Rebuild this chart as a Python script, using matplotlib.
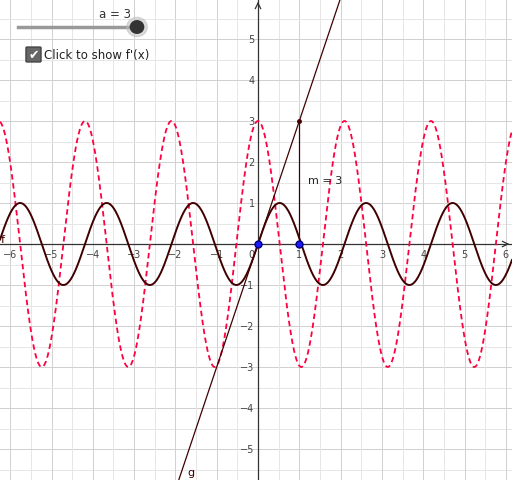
import numpy as np
import matplotlib
matplotlib.use("Agg")
import matplotlib.pyplot as plt
from matplotlib.patches import FancyBboxPatch, Circle

a = 3
tangent_x0 = 0
slope = 3
xticks = [-6, -5, -4, -3, -2, -1, 1, 2, 3, 4, 5, 6]
yticks = [-5, -4, -3, -2, -1, 1, 2, 3, 4, 5]

W, H = 512, 481
fig = plt.figure(figsize=(W/100, H/100), dpi=100)
ax = fig.add_axes([0, 0, 1, 1])
x0px, y0px, sx, sy = 258, 245, 41.3, 41
xmin, xmax = -x0px/sx, (W-x0px)/sx
ymax, ymin = y0px/sy, -(H-y0px)/sy
ax.set_xlim(xmin, xmax); ax.set_ylim(ymin, ymax)
ax.axis('off')

for v in np.arange(-6.5, 6.6, 0.5):
    ax.axvline(v, color='#e6e6e6' if v % 1 else '#d0d0d0', lw=0.7, zorder=0)
    ax.axhline(v, color='#e6e6e6' if v % 1 else '#d0d0d0', lw=0.7, zorder=0)
ax.axhline(0, color='#333333', lw=0.9, zorder=1)
ax.axvline(0, color='#333333', lw=0.9, zorder=1)
ax.annotate('', xy=(xmax, 0), xytext=(xmax-0.2, 0), arrowprops=dict(arrowstyle='->', color='#333', lw=0.9))
ax.annotate('', xy=(0, ymax), xytext=(0, ymax-0.2), arrowprops=dict(arrowstyle='->', color='#333', lw=0.9))
for t in xticks:
    ax.text(t, -0.12, f'{t}' if t > 0 else f'\u2212{-t}', ha='center', va='top', fontsize=7, color='#444')
for t in yticks:
    ax.text(-0.08, t, f'{t}' if t > 0 else f'\u2212{-t}', ha='right', va='center', fontsize=7, color='#444')
ax.text(-0.08, -0.12, '0', ha='right', va='top', fontsize=7, color='#444')

x = np.linspace(xmin, xmax, 2000)
ax.plot(x, a*np.cos(a*x), color='#ff0040', lw=1.3, ls=(0, (3, 2)), zorder=3)
ax.plot(x, np.sin(a*x), color='#400000', lw=1.4, zorder=4)
ax.plot(x, slope*(x-tangent_x0), color='#400000', lw=0.9, zorder=4)
ax.plot([1, 1], [0, slope], color='#400000', lw=0.9, zorder=4)
ax.plot([1], [slope], 'o', ms=2.5, color='#400000', zorder=5)
ax.plot([0, 1], [0, 0], 'o', ms=5, color='#1a1aff', mec='#000080', zorder=6)
ax.text(1.2, 1.55, 'm = 3', fontsize=8, color='#222', va='center')
ax.text(-1.72, -5.55, 'g', fontsize=8, color='#400000', va='center')
ax.text(xmin+0.02, 0.05, 'f', fontsize=8, color='#400000')

def fx(px): return px/W
def fy(py): return 1-py/H
fig.add_artist(plt.Line2D([fx(18), fx(137)], [fy(28), fy(28)], color='#999', lw=2.5))
fig.text(fx(115), fy(15), 'a = 3', fontsize=8.5, ha='center', va='center', color='#333')
fig.add_artist(Circle((fx(137), fy(28)), 0.013, transform=fig.transFigure, color='#333', zorder=10))
fig.add_artist(Circle((fx(137), fy(28)), 0.02, transform=fig.transFigure, color='#bbb', alpha=0.5, zorder=9))
fig.add_artist(FancyBboxPatch((fx(27), fy(62)), fx(13), 13/H, boxstyle='round,pad=0.002',
                              transform=fig.transFigure, fc='#666', ec='#444'))
fig.text(fx(33.5), fy(55), '\u2714', fontsize=9, ha='center', va='center', color='white')
fig.text(fx(44), fy(55), "Click to show f'(x)", fontsize=8.5, va='center', color='#222')
fig.savefig('out.png', dpi=100)
